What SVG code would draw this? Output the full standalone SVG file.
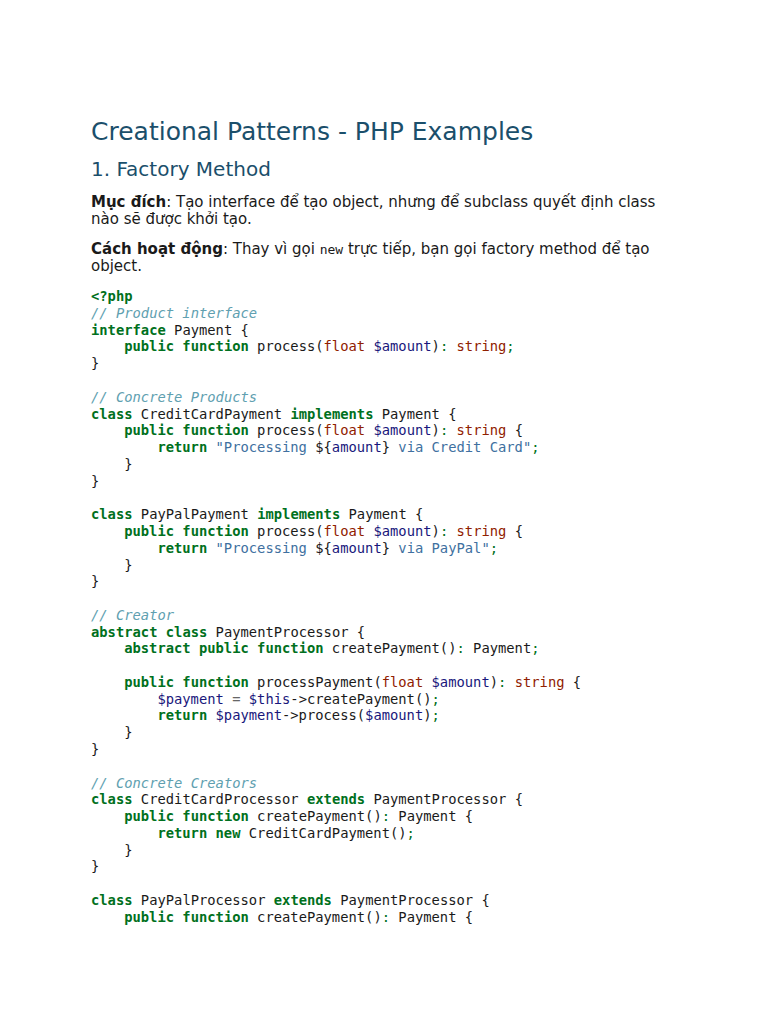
<svg xmlns="http://www.w3.org/2000/svg" width="768" height="1024" viewBox="0 0 768 1024">
<style>
.h1{font-family:"DejaVu Sans",sans-serif;font-size:25px;fill:#1b4f6b}
.h2{font-family:"DejaVu Sans",sans-serif;font-size:20px;fill:#1b4f6b}
.b{font-family:"DejaVu Sans",sans-serif;font-size:15px;fill:#1a1a1a}
.bb{font-weight:bold}
.m{font-family:"DejaVu Sans Mono",monospace;font-size:13px}
.code{font-family:"DejaVu Sans Mono",monospace;font-size:13.8px;fill:#1a1a1a;white-space:pre}
.k{fill:#007020;font-weight:bold}
.c{fill:#60a0b0;font-style:italic}
.s{fill:#4070a0}
.v{fill:#19177c}
.t{fill:#902000}
.o{fill:#666666}
.p{fill:#007020}
</style>
<rect width="768" height="1024" fill="#ffffff"/>
<g id="title">
<text class="h1" x="91" y="140">Creational Patterns - PHP Examples</text>
</g>
<g id="heading">
<text class="h2" x="91" y="176">1. Factory Method</text>
</g>
<g id="description">
<text class="b" x="91" y="207"><tspan class="bb">Mục đích</tspan>: Tạo interface để tạo object, nhưng để subclass quyết định class</text>
<text class="b" x="91" y="224">nào sẽ được khởi tạo.</text>
<text class="b" x="91" y="254"><tspan class="bb">Cách hoạt động</tspan>: Thay vì gọi <tspan class="m">new</tspan> trực tiếp, bạn gọi factory method để tạo</text>
<text class="b" x="91" y="271">object.</text>
</g>
<g id="code" class="code">
<text x="91" y="301"><tspan class="k">&lt;?php</tspan></text>
<text x="91" y="317.8"><tspan class="c">// Product interface</tspan></text>
<text x="91" y="334.6"><tspan class="k">interface</tspan> Payment {</text>
<text x="124.2" y="351.3"><tspan class="k">public</tspan> <tspan class="k">function</tspan> process(<tspan class="t">float</tspan> <tspan class="v">$amount</tspan>)<tspan class="p">:</tspan> <tspan class="t">string</tspan><tspan class="p">;</tspan></text>
<text x="91" y="368.1">}</text>
<text x="91" y="401.7"><tspan class="c">// Concrete Products</tspan></text>
<text x="91" y="418.5"><tspan class="k">class</tspan> CreditCardPayment <tspan class="k">implements</tspan> Payment {</text>
<text x="124.2" y="435.2"><tspan class="k">public</tspan> <tspan class="k">function</tspan> process(<tspan class="t">float</tspan> <tspan class="v">$amount</tspan>)<tspan class="p">:</tspan> <tspan class="t">string</tspan> {</text>
<text x="157.4" y="452"><tspan class="k">return</tspan> <tspan class="s">"Processing </tspan>${<tspan class="v">amount</tspan>}<tspan class="s"> via Credit Card"</tspan><tspan class="p">;</tspan></text>
<text x="124.2" y="468.8">}</text>
<text x="91" y="485.6">}</text>
<text x="91" y="519.1"><tspan class="k">class</tspan> PayPalPayment <tspan class="k">implements</tspan> Payment {</text>
<text x="124.2" y="535.9"><tspan class="k">public</tspan> <tspan class="k">function</tspan> process(<tspan class="t">float</tspan> <tspan class="v">$amount</tspan>)<tspan class="p">:</tspan> <tspan class="t">string</tspan> {</text>
<text x="157.4" y="552.7"><tspan class="k">return</tspan> <tspan class="s">"Processing </tspan>${<tspan class="v">amount</tspan>}<tspan class="s"> via PayPal"</tspan><tspan class="p">;</tspan></text>
<text x="124.2" y="569.5">}</text>
<text x="91" y="586.2">}</text>
<text x="91" y="619.8"><tspan class="c">// Creator</tspan></text>
<text x="91" y="636.6"><tspan class="k">abstract</tspan> <tspan class="k">class</tspan> PaymentProcessor {</text>
<text x="124.2" y="653.3"><tspan class="k">abstract</tspan> <tspan class="k">public</tspan> <tspan class="k">function</tspan> createPayment()<tspan class="p">:</tspan> Payment<tspan class="p">;</tspan></text>
<text x="124.2" y="686.9"><tspan class="k">public</tspan> <tspan class="k">function</tspan> processPayment(<tspan class="t">float</tspan> <tspan class="v">$amount</tspan>)<tspan class="p">:</tspan> <tspan class="t">string</tspan> {</text>
<text x="157.4" y="703.7"><tspan class="v">$payment</tspan> <tspan class="o">=</tspan> <tspan class="v">$this</tspan>-&gt;createPayment()<tspan class="p">;</tspan></text>
<text x="157.4" y="720.4"><tspan class="k">return</tspan> <tspan class="v">$payment</tspan>-&gt;process(<tspan class="v">$amount</tspan>)<tspan class="p">;</tspan></text>
<text x="124.2" y="737.2">}</text>
<text x="91" y="754">}</text>
<text x="91" y="787.5"><tspan class="c">// Concrete Creators</tspan></text>
<text x="91" y="804.3"><tspan class="k">class</tspan> CreditCardProcessor <tspan class="k">extends</tspan> PaymentProcessor {</text>
<text x="124.2" y="821.1"><tspan class="k">public</tspan> <tspan class="k">function</tspan> createPayment()<tspan class="p">:</tspan> Payment {</text>
<text x="157.4" y="837.9"><tspan class="k">return</tspan> <tspan class="k">new</tspan> CreditCardPayment()<tspan class="p">;</tspan></text>
<text x="124.2" y="854.6">}</text>
<text x="91" y="871.4">}</text>
<text x="91" y="905"><tspan class="k">class</tspan> PayPalProcessor <tspan class="k">extends</tspan> PaymentProcessor {</text>
<text x="124.2" y="921.7"><tspan class="k">public</tspan> <tspan class="k">function</tspan> createPayment()<tspan class="p">:</tspan> Payment {</text>
</g>
</svg>
